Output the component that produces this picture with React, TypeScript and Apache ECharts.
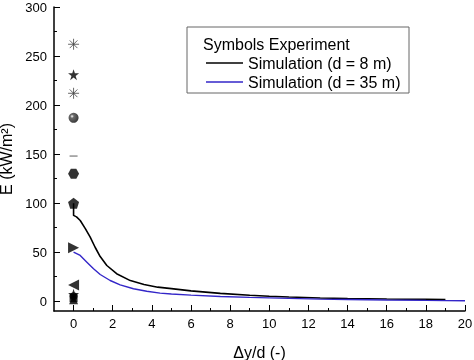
import React, { useEffect, useRef } from "react";
import * as echarts from "echarts";

// Simulation curves: [Δy/d, E]
const simD8: number[][] = [
  [0, 100], [0, 87.5], [0.15, 86], [0.34, 82.3], [0.6, 74], [0.85, 65.3], [1.1, 55],
  [1.36, 45.5], [1.7, 36.4], [2.2, 28], [2.9, 21], [3.6, 17], [4.3, 14.3], [5, 12.8],
  [6, 10.5], [7.5, 8], [9, 6], [10, 5], [11, 4.2], [12.6, 3.2], [14, 2.7], [16, 2.2],
  [18, 1.9], [19, 1.8],
];
const simD35: number[][] = [
  [0, 50], [0.34, 46.6], [0.68, 39.8], [1.02, 33], [1.36, 27.2], [1.87, 21.1],
  [2.38, 16.7], [3.06, 12.7], [3.74, 10.2], [4.42, 8.2], [5, 7.4], [6, 6.2], [7.5, 4.8],
  [9, 3.9], [10, 3.4], [11, 2.9], [12.6, 2.1], [14, 1.7], [16, 1.2], [18, 0.8], [20, 0.5],
];
// Experiment symbols (all at Δy/d = 0)
const expX: number[] = [0, 0, 0, 0, 0, 0, 0, 0, 0, 0, 0, 0, 0];
const expE: number[] = [262, 231, 212, 187, 148, 130, 100, 54.5, 16.5, 7, 5, 3, 1.5];
const expMarker: string[] = [
  "asterisk", "star", "asterisk", "sphere", "dash", "hexagon", "pentagon",
  "triRight", "triLeft", "star", "circle", "square", "triUp",
];

const xTicks: number[] = [0, 2, 4, 6, 8, 10, 12, 14, 16, 18, 20];
const xMinorTicks: number[] = [1, 3, 5, 7, 9, 11, 13, 15, 17, 19];
const yTicks: number[] = [0, 50, 100, 150, 200, 250, 300];
const yMinorTicks: number[] = [25, 75, 125, 175, 225, 275];

const legendNames: string[] = ["Simulation (d = 8 m)", "Simulation (d = 35 m)"];

const FONT = "'Liberation Sans', Arial, sans-serif";

const markerStyle: Record<string, any> = {
  asterisk: {
    symbol: "path://M0,5L10,5M5,0L5,10M1.5,1.5L8.5,8.5M8.5,1.5L1.5,8.5",
    symbolSize: 11,
    itemStyle: { color: "none", borderColor: "#444", borderWidth: 1 },
  },
  star: {
    symbol:
      "path://M5,0L6.2,3.6L10,3.6L6.9,5.9L8.1,9.5L5,7.3L1.9,9.5L3.1,5.9L0,3.6L3.8,3.6Z",
    symbolSize: 11,
    itemStyle: { color: "#000" },
  },
  sphere: {
    symbol: "circle",
    symbolSize: 10,
    itemStyle: {
      color: {
        type: "radial", x: 0.35, y: 0.35, r: 0.75,
        colorStops: [
          { offset: 0, color: "#ffffff" },
          { offset: 0.25, color: "#444" },
          { offset: 1, color: "#000" },
        ],
      },
    },
  },
  dash: { symbol: "rect", symbolSize: [8, 1.2], itemStyle: { color: "#555" } },
  hexagon: {
    symbol: "path://M2.5,0L7.5,0L10,4.33L7.5,8.66L2.5,8.66L0,4.33Z",
    symbolSize: [11, 10],
    itemStyle: { color: "#000" },
  },
  pentagon: {
    symbol: "path://M5,0L10,3.8L8.1,9.5L1.9,9.5L0,3.8Z",
    symbolSize: 11,
    itemStyle: { color: "#000" },
  },
  triRight: { symbol: "triangle", symbolSize: [11, 11], symbolRotate: -90, itemStyle: { color: "#000" } },
  triLeft: { symbol: "triangle", symbolSize: [11, 11], symbolRotate: 90, itemStyle: { color: "#000" } },
  circle: { symbol: "circle", symbolSize: 8, itemStyle: { color: "#000" } },
  square: { symbol: "rect", symbolSize: 8, itemStyle: { color: "#000" } },
  triUp: { symbol: "triangle", symbolSize: 9, itemStyle: { color: "#000" } },
};

export default function App() {
  const ref = useRef<HTMLDivElement>(null);
  useEffect(() => {
    if (!ref.current) return;
    const chart = echarts.init(ref.current, null, { renderer: "svg" });
    const axisLine = { show: true, onZero: false, lineStyle: { color: "#000", width: 1.5 } };
    const scatterData = expE.map((e, i) => ({
      value: [expX[i], e],
      ...markerStyle[expMarker[i]],
    }));
    chart.setOption({
      animation: false,
      textStyle: { fontFamily: FONT },
      grid: { left: 54, right: 9, top: 7, bottom: 49, containLabel: false, outerBoundsMode: "none" },
      legend: {
        data: legendNames,
        orient: "vertical",
        left: 201,
        top: 50,
        icon: "rect",
        itemWidth: 37,
        itemHeight: 1.6,
        itemGap: 3,
        textStyle: { fontSize: 16, color: "#000", fontFamily: FONT },
      },
      graphic: [
        {
          type: "rect",
          shape: { x: 187, y: 27, width: 222, height: 66 },
          style: { fill: "none", stroke: "#666", lineWidth: 1 },
          z: 10,
        },
        {
          type: "text",
          x: 203,
          y: 44,
          style: {
            text: "Symbols Experiment",
            font: `16px ${FONT}`,
            fill: "#000",
            verticalAlign: "middle",
          },
          z: 10,
        },
      ],
      xAxis: [
        {
          type: "value",
          min: -1,
          max: 20,
          position: "bottom",
          axisLine,
          splitLine: { show: false },
          axisTick: { show: true, inside: true, length: 6, customValues: xTicks, lineStyle: { color: "#000" } },
          axisLabel: { customValues: xTicks, fontSize: 13, color: "#000", margin: 6, fontFamily: FONT },
          name: "Δy/d (-)",
          nameLocation: "middle",
          nameGap: 33,
          nameTextStyle: { fontSize: 16, color: "#000", fontFamily: FONT },
        },
        {
          type: "value",
          min: -1,
          max: 20,
          position: "bottom",
          axisLine: { show: false, onZero: false },
          splitLine: { show: false },
          axisTick: { show: true, inside: true, length: 3, customValues: xMinorTicks, lineStyle: { color: "#000" } },
          axisLabel: { show: false },
        },
      ],
      yAxis: [
        {
          type: "value",
          min: -10,
          max: 300,
          position: "left",
          axisLine,
          splitLine: { show: false },
          axisTick: { show: true, inside: true, length: 6, customValues: yTicks, lineStyle: { color: "#000" } },
          axisLabel: { customValues: yTicks, fontSize: 13, color: "#000", margin: 7, fontFamily: FONT },
          name: "E (kW/m²)",
          nameLocation: "middle",
          nameGap: 32,
          nameTextStyle: { fontSize: 16, color: "#000", fontFamily: FONT },
        },
        {
          type: "value",
          min: -10,
          max: 300,
          position: "left",
          axisLine: { show: false, onZero: false },
          splitLine: { show: false },
          axisTick: { show: true, inside: true, length: 3, customValues: yMinorTicks, lineStyle: { color: "#000" } },
          axisLabel: { show: false },
        },
      ],
      series: [
        {
          name: legendNames[0],
          type: "line",
          data: simD8,
          symbol: "none",
          lineStyle: { color: "#000", width: 1.6 },
          itemStyle: { color: "#000" },
        },
        {
          name: legendNames[1],
          type: "line",
          data: simD35,
          symbol: "none",
          lineStyle: { color: "#3326c8", width: 1.4 },
          itemStyle: { color: "#3326c8" },
        },
        {
          name: "Symbols Experiment",
          type: "scatter",
          data: scatterData,
          z: 5,
        },
      ],
    });
    return () => chart.dispose();
  }, []);
  return (
    <div
      ref={ref}
      style={{ position: "fixed", left: 0, top: 0, width: 474, height: 360 }}
    />
  );
}
